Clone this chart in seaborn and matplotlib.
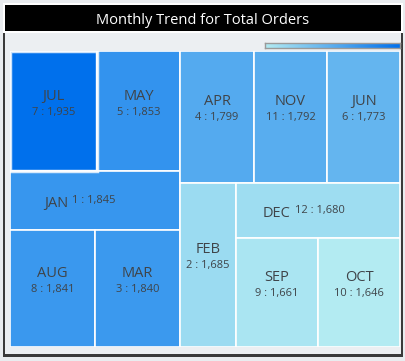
import numpy as np
import pandas as pd
import matplotlib
matplotlib.use("Agg")
import matplotlib.pyplot as plt
from matplotlib.patches import Rectangle
import seaborn as sns

sns.set_theme(style="white")
plt.rcParams["font.family"] = ["Open Sans", "DejaVu Sans"]

months = ["JAN", "FEB", "MAR", "APR", "MAY", "JUN", "JUL", "AUG", "SEP", "OCT", "NOV", "DEC"]
month_num = [1, 2, 3, 4, 5, 6, 7, 8, 9, 10, 11, 12]
orders = [1845, 1685, 1840, 1799, 1853, 1773, 1935, 1841, 1661, 1646, 1792, 1680]

df = pd.DataFrame({"month": months, "num": month_num, "orders": orders}).set_index("month")

# nesting of the tiles ("h" = side by side, "v" = stacked); sizes come from the values
layout = ("h", [("v", [("h", ["JUL", "MAY"]), "JAN", ("h", ["AUG", "MAR"])]),
                ("v", [("h", ["APR", "NOV", "JUN"]),
                       ("h", ["FEB", ("v", ["DEC", ("h", ["SEP", "OCT"])])])])])


def total(node):
    if isinstance(node, str):
        return df.loc[node, "orders"]
    return sum(total(c) for c in node[1])


def place(node, x, y, w, h, out):
    if isinstance(node, str):
        out[node] = (x, y, w, h)
        return
    kind, kids = node
    s = total(node)
    for k in kids:
        f = total(k) / s
        if kind == "h":
            place(k, x, y, w * f, h, out)
            x += w * f
        else:
            place(k, x, y, w, h * f, out)
            y += h * f


W, H = 406, 361
fig = plt.figure(figsize=(W / 100, H / 100), dpi=100)
fig.patch.set_facecolor("#e9ecef")


def px_rect(x0, y0, x1, y1, **kw):
    fig.patches.append(Rectangle((x0 / W, 1 - y1 / H), (x1 - x0) / W, (y1 - y0) / H,
                                 transform=fig.transFigure, zorder=-5, **kw))


# card frame
px_rect(3, 3, 403, 33, facecolor="white", edgecolor="none")
px_rect(5, 5, 401, 31, facecolor="black", edgecolor="none")
px_rect(3, 33, 403, 357, facecolor="#3a3a3a", edgecolor="none")
px_rect(5, 33, 401, 354, facecolor="#eceff2", edgecolor="none")
fig.text(203 / W, 1 - 20 / H, "Monthly Trend for Total Orders", color="white",
         fontsize=10.5, ha="center", va="center")

cmap = sns.blend_palette(["#b3ebf2", "#0070ec"], as_cmap=True)
norm = plt.Normalize(df["orders"].min(), df["orders"].max())

# gradient legend
lax = fig.add_axes([265 / W, 1 - 48 / H, 135 / W, 5 / H])
lax.imshow(np.linspace(0, 1, 256)[None, :], aspect="auto", cmap=cmap)
lax.set_xticks([])
lax.set_yticks([])
for s in lax.spines.values():
    s.set_color("#9a9a9a")
    s.set_linewidth(1)

ax = fig.add_axes([10 / W, 1 - 347 / H, 390 / W, 296 / H])
ax.patch.set_alpha(0)
rects = {}
place(layout, 0, 0, 390, 296, rects)
ax.set_xlim(0, 390)
ax.set_ylim(296, 0)
ax.axis("off")

txt = "#3f4449"
for m, (x, y, w, h) in rects.items():
    v = df.loc[m, "orders"]
    n = df.loc[m, "num"]
    ax.add_patch(Rectangle((x, y), w, h, facecolor=cmap(norm(v)), edgecolor="white", linewidth=1.2))
    cx, cy = x + w / 2, y + h / 2
    lab = f"{n} : {v:,}"
    if w / h > 2.5:
        ax.text(cx - 27, cy + 3, m, ha="right", va="center", fontsize=10.5, color=txt)
        ax.text(cx - 23, cy, lab, ha="left", va="center", fontsize=8, color=txt)
    else:
        ax.text(cx, cy - 15, m, ha="center", va="center", fontsize=10.5, color=txt)
        ax.text(cx, cy + 1, lab, ha="center", va="center", fontsize=8, color=txt)

# highlight on the largest tile
top = df["orders"].idxmax()
x, y, w, h = rects[top]
ax.add_patch(Rectangle((x, y), w, h, facecolor="none", edgecolor="white", linewidth=2.5, alpha=0.8))

fig.savefig("out.png", dpi=100)
